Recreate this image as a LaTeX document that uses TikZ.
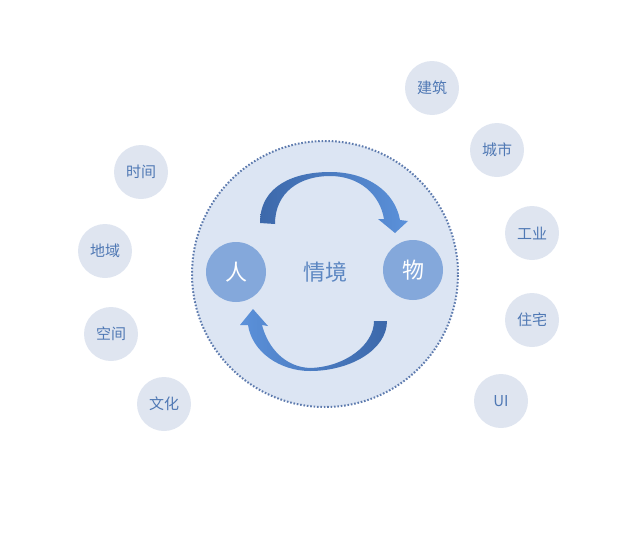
\documentclass[tikz,border=0pt]{standalone}
\usepackage{fontspec}
\newfontfamily\cjk{Noto Sans CJK SC}
\definecolor{ringfill}{HTML}{DCE5F3}
\definecolor{ringline}{HTML}{5E7BAE}
\definecolor{topicfill}{HTML}{DFE5F0}
\definecolor{topictext}{HTML}{4F78B4}
\definecolor{actorfill}{HTML}{84A8DB}
\definecolor{scenetext}{HTML}{5C87C2}
\definecolor{flowdark}{HTML}{3C68AA}
\definecolor{flowlight}{HTML}{5B91DA}

\begin{document}
\begin{tikzpicture}[x=1pt,y=-1pt]
  \tikzstyle{topic}=[circle,fill=topicfill,minimum size=54pt,inner sep=0pt,text=topictext,font=\cjk\fontsize{15}{18}\selectfont]
  \tikzstyle{actor}=[circle,fill=actorfill,minimum size=60pt,inner sep=0pt,text=white,font=\cjk\fontsize{22}{26}\selectfont]
  \useasboundingbox (0,0) rectangle (640,549);
  % central ring
  \node[circle,fill=ringfill,draw=ringline,line width=2pt,dash pattern=on 1.6pt off 1.8pt,minimum size=266pt] (ring) at (325,274) {};
  \node[actor] (ren) at (236,272) {人};
  \node[actor] (wu)  at (413,270) {物};
  \node[text=scenetext,font=\cjk\fontsize{22}{26}\selectfont] (scene) at (325,272) {情境};
  % curved arrows, thin in the middle
  \coordinate (toptail) at (260,223);
  \coordinate (toptop)  at (330,172);
  \coordinate (toptip)  at (395,233);
  \shade[left color=flowdark,right color=flowlight]
    (toptail) .. controls (260,185) and (295,172) .. (toptop)
    .. controls (368,172) and (395,192) .. (400,220)
    -- (408,221) -- (toptip) -- (378,219) -- (384,219)
    .. controls (380,195) and (360,176) .. (330,176)
    .. controls (300,176) and (275,192) .. (275,224) -- cycle;
  \coordinate (bottail) at (387,321);
  \coordinate (botlow)  at (310,371);
  \coordinate (bottip)  at (253,309);
  \shade[left color=flowlight,right color=flowdark]
    (bottail) .. controls (387,350) and (350,371) .. (botlow)
    .. controls (280,371) and (252,352) .. (248,325)
    -- (240,325) -- (bottip) -- (268,326) -- (262,325)
    .. controls (268,348) and (285,367) .. (310,368)
    .. controls (345,367) and (374,345) .. (374,321) -- cycle;
  % left topics
  \node[topic] (shijian) at (141,172) {时间};
  \node[topic] (diyu)    at (105,251) {地域};
  \node[topic] (kongjian) at (111,334) {空间};
  \node[topic] (wenhua)  at (164,404) {文化};
  % right topics
  \node[topic] (jianzhu) at (432,88)  {建筑};
  \node[topic] (chengshi) at (497,150) {城市};
  \node[topic] (gongye)  at (532,233) {工业};
  \node[topic] (zhuzhai) at (532,320) {住宅};
  \node[topic] (ui)      at (501,401) {UI};
\end{tikzpicture}
\end{document}
